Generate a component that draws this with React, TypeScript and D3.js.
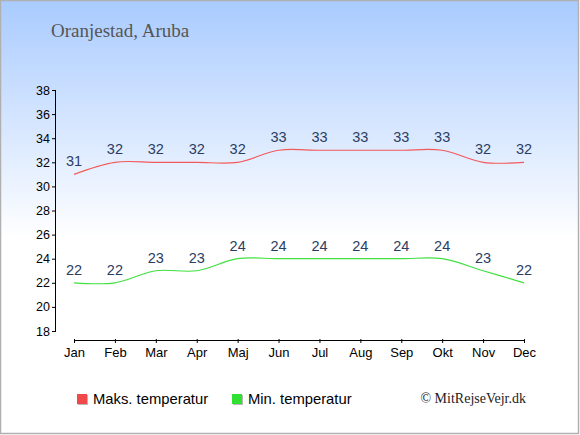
import React, { useRef, useEffect } from 'react';
import * as d3 from 'd3';

const months = ['Jan', 'Feb', 'Mar', 'Apr', 'Maj', 'Jun', 'Jul', 'Aug', 'Sep', 'Okt', 'Nov', 'Dec'];
const maxTemp = [31, 32, 32, 32, 32, 33, 33, 33, 33, 33, 32, 32];
const minTemp = [22, 22, 23, 23, 24, 24, 24, 24, 24, 24, 23, 22];
const yTicks = [18, 20, 22, 24, 26, 28, 30, 32, 34, 36, 38];

const width = 580;
const height = 435;

const App: React.FC = () => {
  const svgRef = useRef<SVGSVGElement | null>(null);

  useEffect(() => {
    const svg = d3.select(svgRef.current);
    svg.selectAll('*').remove();

    // background gradient
    const defs = svg.append('defs');
    const grad = defs.append('linearGradient')
      .attr('id', 'bg')
      .attr('x1', 0).attr('y1', 0).attr('x2', 0).attr('y2', 1);
    grad.append('stop').attr('offset', '0%').attr('stop-color', '#a9cbff');
    grad.append('stop').attr('offset', '55%').attr('stop-color', '#ffffff');
    grad.append('stop').attr('offset', '100%').attr('stop-color', '#ffffff');

    const shadow = defs.append('filter').attr('id', 'sh');
    shadow.append('feDropShadow')
      .attr('dx', 1).attr('dy', 1).attr('stdDeviation', 0.6)
      .attr('flood-color', '#888').attr('flood-opacity', 0.6);

    svg.append('rect')
      .attr('x', 0.5).attr('y', 0.5)
      .attr('width', width - 2).attr('height', height - 2)
      .attr('fill', 'url(#bg)')
      .attr('stroke', '#b0b0b0')
      .attr('stroke-width', 1.5);

    svg.append('text')
      .attr('x', 51)
      .attr('y', 37)
      .attr('font-family', '"Liberation Serif", "DejaVu Serif", serif')
      .attr('font-size', 19)
      .attr('fill', '#555')
      .text('Oranjestad, Aruba');

    const x = d3.scalePoint<string>().domain(months).range([74, 524]);
    const y = d3.scaleLinear().domain([18, 38]).range([331, 90]);

    const font = '"Liberation Sans", Arial, sans-serif';

    // y axis
    const yAxis = svg.append('g')
      .attr('transform', 'translate(55,0)')
      .call(d3.axisLeft(y).tickValues(yTicks).tickSize(3).tickSizeOuter(0));
    yAxis.select('.domain').attr('stroke', '#000');
    yAxis.selectAll('.tick line').attr('x2', -3).attr('x1', 1).attr('stroke', '#000');
    yAxis.selectAll('.tick text')
      .attr('x', -5)
      .attr('font-family', font)
      .attr('font-size', 12.5)
      .attr('fill', '#000');

    // x axis
    const xAxis = svg.append('g')
      .attr('transform', 'translate(0,340)')
      .call(d3.axisBottom(x).tickSize(3).tickSizeOuter(0));
    xAxis.select('.domain').attr('stroke', '#000');
    xAxis.selectAll('.tick line').attr('y1', -1).attr('y2', 3).attr('stroke', '#000');
    xAxis.selectAll('.tick text')
      .attr('y', 8)
      .attr('font-family', font)
      .attr('font-size', 13)
      .attr('fill', '#000');

    const line = d3.line<number>()
      .x((_, i) => x(months[i]) as number)
      .y(d => y(d))
      .curve(d3.curveCatmullRom.alpha(0.5));

    const series = [
      { values: maxTemp, color: '#f25a5a' },
      { values: minTemp, color: '#3fe03f' },
    ];

    series.forEach(s => {
      svg.append('path')
        .datum(s.values)
        .attr('d', line)
        .attr('fill', 'none')
        .attr('stroke', s.color)
        .attr('stroke-width', 1.2);

      svg.append('g')
        .selectAll('text')
        .data(s.values)
        .enter()
        .append('text')
        .attr('x', (_, i) => x(months[i]) as number)
        .attr('y', d => y(d) - 8)
        .attr('text-anchor', 'middle')
        .attr('font-family', font)
        .attr('font-size', 14.5)
        .attr('fill', '#2b3d63')
        .text(d => String(d));
    });

    // legend
    const legend = [
      { label: 'Maks. temperatur', color: '#f04848', x: 77 },
      { label: 'Min. temperatur', color: '#33e033', x: 232 },
    ];
    legend.forEach(l => {
      svg.append('rect')
        .attr('x', l.x).attr('y', 394)
        .attr('width', 10).attr('height', 10)
        .attr('fill', l.color)
        .attr('filter', 'url(#sh)');
      svg.append('text')
        .attr('x', l.x + 16)
        .attr('y', 404)
        .attr('font-family', font)
        .attr('font-size', 14.8)
        .attr('fill', '#000')
        .text(l.label);
    });

    svg.append('text')
      .attr('x', 526)
      .attr('y', 403)
      .attr('text-anchor', 'end')
      .attr('font-family', '"Liberation Serif", "DejaVu Serif", serif')
      .attr('font-size', 14)
      .attr('fill', '#222')
      .text('© MitRejseVejr.dk');
  }, []);

  return (
    <svg
      ref={svgRef}
      width={width}
      height={height}
      style={{ position: 'absolute', left: 0, top: 0, display: 'block' }}
    />
  );
};

export default App;
